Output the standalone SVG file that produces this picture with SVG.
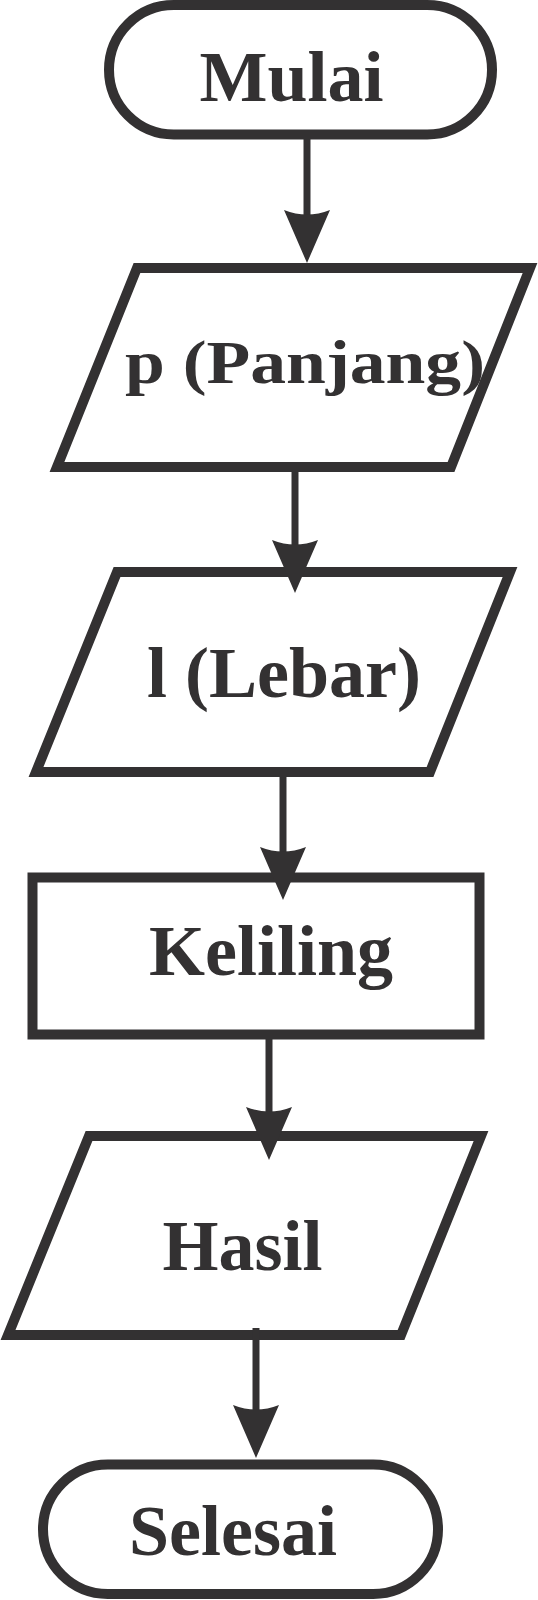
<svg xmlns="http://www.w3.org/2000/svg" width="538" height="1600" viewBox="0 0 538 1600">
  <defs>
    <style>
      .shape { fill: #ffffff; stroke: #333132; stroke-width: 10; stroke-linejoin: miter; }
      .label { font-family: "Liberation Serif", "Times New Roman", serif; font-weight: bold; font-size: 72px; fill: #333132; text-anchor: middle; }
      .conn { stroke: #333132; stroke-width: 7; fill: none; }
    </style>
    <marker id="arrow" markerUnits="userSpaceOnUse" viewBox="0 0 53 46" markerWidth="53" markerHeight="46" refX="23" refY="23" orient="auto">
      <path d="M53,23 L0,0 Q9,23 0,46 Z" fill="#333132"/>
    </marker>
  </defs>
  <rect width="538" height="1600" fill="#ffffff"/>

  <g id="node-mulai">
    <rect class="shape" x="109" y="5" width="383" height="129.5" rx="64.75" ry="64.75"/>
    <text class="label" x="291.5" y="101">Mulai</text>
  </g>

  <g id="node-panjang">
    <polygon class="shape" points="137,268 530,268 451,467 57,467"/>
    <text class="label" x="305" y="383" style="font-size:62px" textLength="360" lengthAdjust="spacingAndGlyphs">p (Panjang)</text>
  </g>

  <g id="node-lebar">
    <polygon class="shape" points="117,572 510,572 430,772 36,772"/>
    <text class="label" x="284" y="697">l (Lebar)</text>
  </g>

  <g id="node-keliling">
    <rect class="shape" x="32.5" y="877.5" width="447" height="157"/>
    <text class="label" x="271" y="975">Keliling</text>
  </g>

  <g id="node-hasil">
    <polygon class="shape" points="89,1136 481,1136 401,1335 8,1335"/>
    <text class="label" x="242.5" y="1270">Hasil</text>
  </g>

  <g id="node-selesai">
    <rect class="shape" x="43" y="1464.5" width="395" height="129.5" rx="64.75" ry="64.75"/>
    <text class="label" x="233" y="1555">Selesai</text>
  </g>

  <g id="connectors">
    <line class="conn" x1="307" y1="139" x2="307" y2="233" marker-end="url(#arrow)"/>
    <line class="conn" x1="295" y1="472" x2="295" y2="563" marker-end="url(#arrow)"/>
    <line class="conn" x1="283" y1="777" x2="283" y2="870" marker-end="url(#arrow)"/>
    <line class="conn" x1="269" y1="1039" x2="269" y2="1130" marker-end="url(#arrow)"/>
    <line class="conn" x1="256" y1="1328" x2="256" y2="1428" marker-end="url(#arrow)"/>
  </g>
</svg>
